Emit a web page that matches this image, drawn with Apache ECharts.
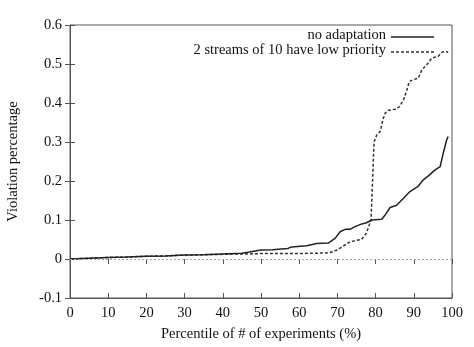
<!DOCTYPE html>
<html><head><meta charset="utf-8">
<script src="https://cdn.jsdelivr.net/npm/echarts@6/dist/echarts.min.js"></script>
<style>html,body{margin:0;padding:0;background:#fff}#c{width:474px;height:347px}</style>
</head><body><div id="c"></div>
<script>
var seriesNames = ['no adaptation', '2 streams of 10 have low priority'];
var noAdaptPct = [0,5,10,15,20,25,30,35,40,45,47,50,53,57,58,62,64.6,67.6,69.4,70.7,72,73.3,74.6,76.4,77.6,79,81.6,82.5,83.8,85.5,87.3,89,91.2,92.5,93.8,95.5,96.9,97.7,98.6,99];
var noAdaptVal = [0,0.002,0.004,0.005,0.007,0.008,0.01,0.011,0.013,0.015,0.018,0.023,0.024,0.027,0.031,0.034,0.04,0.041,0.053,0.07,0.076,0.076,0.083,0.09,0.093,0.1,0.102,0.113,0.132,0.138,0.156,0.173,0.187,0.203,0.213,0.228,0.237,0.271,0.305,0.314];
var lowPriPct = [0,5,10,15,20,25,30,35,40,45,47,50,55,60,65,68,68.9,70,71.5,73.3,75,76.3,77.6,78.8,79.6,79.8,80.3,81.2,81.9,82.5,83.3,85.1,86.2,87.3,88.1,88.8,89.9,91.2,92.1,93.4,94.7,96.4,97.5,98.4,99];
var lowPriVal = [0,0.002,0.004,0.005,0.007,0.008,0.01,0.011,0.012,0.013,0.013,0.014,0.014,0.014,0.015,0.016,0.02,0.023,0.033,0.044,0.048,0.05,0.066,0.1,0.3,0.305,0.318,0.327,0.357,0.374,0.381,0.384,0.39,0.408,0.43,0.455,0.46,0.464,0.485,0.498,0.515,0.52,0.531,0.532,0.53];
var xTicks = [0,10,20,30,40,50,60,70,80,90,100];
var yTicks = [-0.1,0,0.1,0.2,0.3,0.4,0.5,0.6];
var xTitle = 'Percentile of # of experiments (%)';
var yTitle = 'Violation percentage';

function zip(a, b){ return a.map(function(x,i){ return [x, b[i]]; }); }
var font = 'Liberation Serif';
var fs = 14.5;
var axisCol = '#555';
var chart = echarts.init(document.getElementById('c'));
var tickStyle = {show:true, inside:true, length:5, lineStyle:{color:axisCol}};
chart.setOption({
  animation:false,
  grid:{left:70, right:22, top:25, bottom:49, show:true, borderColor:axisCol, borderWidth:1,
        containLabel:false, outerBoundsMode:'none'},
  legend:{show:false},
  xAxis:[{type:'value', min:0, max:100, interval:10, position:'bottom',
    axisLine:{show:true, onZero:false, lineStyle:{color:axisCol}},
    axisTick:tickStyle, splitLine:{show:false},
    axisLabel:{color:'#111', fontFamily:font, fontSize:fs, margin:8},
    name:xTitle, nameLocation:'middle', nameGap:29,
    nameTextStyle:{color:'#111', fontFamily:font, fontSize:fs}},
   {type:'value', min:0, max:100, interval:10, position:'top',
    axisLine:{show:false}, axisTick:tickStyle, axisLabel:{show:false}, splitLine:{show:false}}],
  yAxis:[{type:'value', min:-0.1, max:0.6, interval:0.1, position:'left',
    axisLine:{show:true, lineStyle:{color:axisCol}},
    axisTick:tickStyle, splitLine:{show:false},
    axisLabel:{color:'#111', fontFamily:font, fontSize:fs, margin:8,
      formatter:function(v){ var r=Math.round(v*10)/10; return r===0?'0':String(r); }},
    name:yTitle, nameLocation:'middle', nameGap:49,
    nameTextStyle:{color:'#111', fontFamily:font, fontSize:fs}},
   {type:'value', min:-0.1, max:0.6, interval:0.1, position:'right',
    axisLine:{show:false}, axisTick:tickStyle, axisLabel:{show:false}, splitLine:{show:false}}],
  series:[
    {name:seriesNames[0], type:'line', data:zip(noAdaptPct,noAdaptVal), showSymbol:false,
     lineStyle:{color:'#222', width:1.5}, z:3,
     markLine:{silent:true, symbol:'none', label:{show:false},
       lineStyle:{color:'#aaa', type:[2,2], width:1}, data:[{yAxis:0}]}},
    {name:seriesNames[1], type:'line', data:zip(lowPriPct,lowPriVal), showSymbol:false,
     lineStyle:{color:'#333', width:1.5, type:[3,2]}, z:2}
  ],
  graphic:[
    {type:'text', right:88, top:28, style:{text:seriesNames[0], font:fs+'px "Liberation Serif"', fill:'#111', textAlign:'right'}},
    {type:'line', shape:{x1:391, y1:37, x2:434, y2:37}, style:{stroke:'#222', lineWidth:1.5}},
    {type:'text', right:88, top:43, style:{text:seriesNames[1], font:fs+'px "Liberation Serif"', fill:'#111', textAlign:'right'}},
    {type:'line', shape:{x1:391, y1:52, x2:434, y2:52}, style:{stroke:'#333', lineWidth:1.5, lineDash:[3,2]}}
  ]
});
</script></body></html>
